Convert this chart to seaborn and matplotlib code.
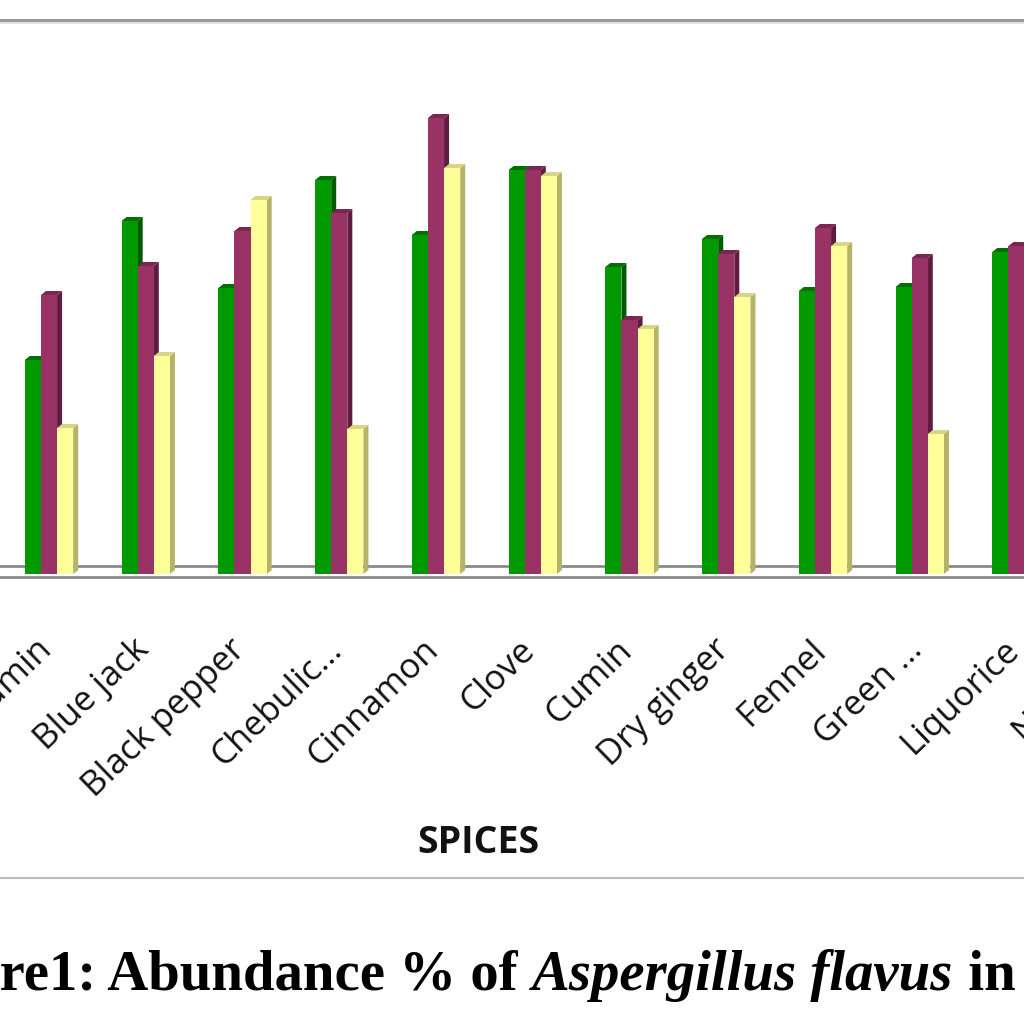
import numpy as np
import pandas as pd
import matplotlib
matplotlib.use("Agg")
import matplotlib.pyplot as plt
import matplotlib.transforms as mtransforms
from matplotlib.patches import Polygon
from matplotlib.lines import Line2D
import seaborn as sns

# ---------------- data ----------------
categories = ["Black cumin", "Blue jack", "Black pepper", "Chebulic\u2026", "Cinnamon",
              "Clove", "Cumin", "Dry ginger", "Fennel", "Green \u2026", "Liquorice", "Nutmeg"]
series = ["Sample 1", "Sample 2", "Sample 3"]
green_vals = [42.8, 70.6, 57.2, 78.8, 67.8, 80.8, 61.4, 67.0, 56.6, 57.4, 64.4]
purple_vals = [55.8, 61.6, 68.6, 72.2, 91.2, 80.8, 50.8, 64.0, 69.2, 63.2, 65.6]
yellow_vals = [29.2, 43.6, 74.8, 29.0, 81.2, 79.6, 49.0, 55.4, 65.6, 28.0, 63.0]

front_colors = ["#009a00", "#993366", "#ffff99"]
side_colors = ["#005a00", "#5e1d3e", "#b5b36a"]
top_colors = ["#007000", "#7a2650", "#d8d585"]

rows = []
for s, vals in zip(series, [green_vals, purple_vals, yellow_vals]):
    for c, v in zip(categories, vals):
        rows.append({"Spice": c, "Series": s, "Abundance": v})
df = pd.DataFrame(rows)

# ---------------- figure ----------------
sns.set_style("white")
plt.rcParams["font.family"] = ["Open Sans", "DejaVu Sans"]

W = H = 1024
fig = plt.figure(figsize=(W / 100, H / 100), dpi=100)

# pixel geometry of the (cropped) plot area
cat0_px, step_px = 49.0, 96.75
xmin, xmax = -0.6, 11.5
base_px, top_px = 574.0, 20.0
px_per_unit = 5.0
left_px = cat0_px + xmin * step_px
right_px = cat0_px + xmax * step_px
ax = fig.add_axes([left_px / W, (H - base_px) / H,
                   (right_px - left_px) / W, (base_px - top_px) / H])

sns.barplot(data=df, x="Spice", y="Abundance", hue="Series", order=categories,
            hue_order=series, palette=front_colors, width=0.5, saturation=1,
            errorbar=None, legend=False, linewidth=0, ax=ax, zorder=2)

ax.set_xlim(xmin, xmax)
ax.set_ylim(0, (base_px - top_px) / px_per_unit)

# 3-D look: side and top faces derived from the drawn bars
dx = 5.0 / step_px
dy = 4.0 / px_per_unit
for cont, sc, tc in zip(ax.containers, side_colors, top_colors):
    for p in cont.patches:
        x, w, h = p.get_x(), p.get_width(), p.get_height()
        if not np.isfinite(h):
            continue
        side = Polygon([(x + w, 0), (x + w + dx, dy), (x + w + dx, h + dy), (x + w, h)],
                       closed=True, facecolor=sc, edgecolor="none", zorder=1.5)
        top = Polygon([(x, h), (x + dx, h + dy), (x + w + dx, h + dy), (x + w, h)],
                      closed=True, facecolor=tc, edgecolor="none", zorder=1.5)
        ax.add_patch(side)
        ax.add_patch(top)

# floor lines
ytr = ax.get_yaxis_transform()
back = ytr + mtransforms.ScaledTranslation(0, 8 / 100, fig.dpi_scale_trans)
front = ytr + mtransforms.ScaledTranslation(0, -3 / 100, fig.dpi_scale_trans)
ax.plot([0, 1], [0, 0], transform=back, color="#8a8a8a", lw=2.0, zorder=1, clip_on=False)
ax.plot([0, 1], [0, 0], transform=front, color="#8a8a8a", lw=2.0, zorder=1, clip_on=False)

for sp in ax.spines.values():
    sp.set_visible(False)
ax.set_yticks([])
ax.set_ylabel("")
ax.set_xlabel("")

ax.set_xticks(range(len(categories)))
ax.set_xticklabels(categories, rotation=44, ha="right", va="center",
                   rotation_mode="anchor", fontsize=25, color="#111111")
ax.tick_params(axis="x", length=0, pad=51)
shift = mtransforms.ScaledTranslation(-2 / 100, 0, fig.dpi_scale_trans)
for lab in ax.get_xticklabels():
    lab.set_transform(lab.get_transform() + shift)

fig.text(478 / W, 1 - 843 / H, "SPICES", ha="center", va="center",
         fontsize=27, fontweight="bold", color="#111111")

# chart frame lines
fig.add_artist(Line2D([0, 1], [1 - 20 / H, 1 - 20 / H], color="#9a9a9a", lw=2.2))
fig.add_artist(Line2D([0, 1], [1 - 23 / H, 1 - 23 / H], color="#e2e2e2", lw=1.5))
fig.add_artist(Line2D([0, 1], [1 - 878 / H, 1 - 878 / H], color="#bdbdbd", lw=1.5))

# caption
renderer = fig.canvas.get_renderer()
cap_font = dict(family="Liberation Serif", weight="bold")


def text_w(s, size, style="normal"):
    t = fig.text(0, 0, "X" + s + "X", fontsize=size, style=style, **cap_font)
    w1 = t.get_window_extent(renderer).width
    t.remove()
    t = fig.text(0, 0, "XX", fontsize=size, style=style, **cap_font)
    w0 = t.get_window_extent(renderer).width
    t.remove()
    return w1 - w0


pieces = [("Figure1: Abundance % of ", "normal"), ("Aspergillus flavus", "italic"),
          (" in spices", "normal")]
ref = 10
vis = (text_w("re1: Abundance % of ", ref) + text_w("Aspergillus flavus", ref, "italic")
       + text_w(" in", ref))
cap_size = ref * 1016 / vis
xpos = -text_w("Figu", cap_size)
ybase = (H - 990) / H
for s, st in pieces:
    fig.text(xpos / W, ybase, s, fontsize=cap_size, style=st, va="baseline",
             ha="left", color="black", **cap_font)
    xpos += text_w(s, cap_size, st)

fig.savefig("out.png", dpi=100, facecolor="white")
